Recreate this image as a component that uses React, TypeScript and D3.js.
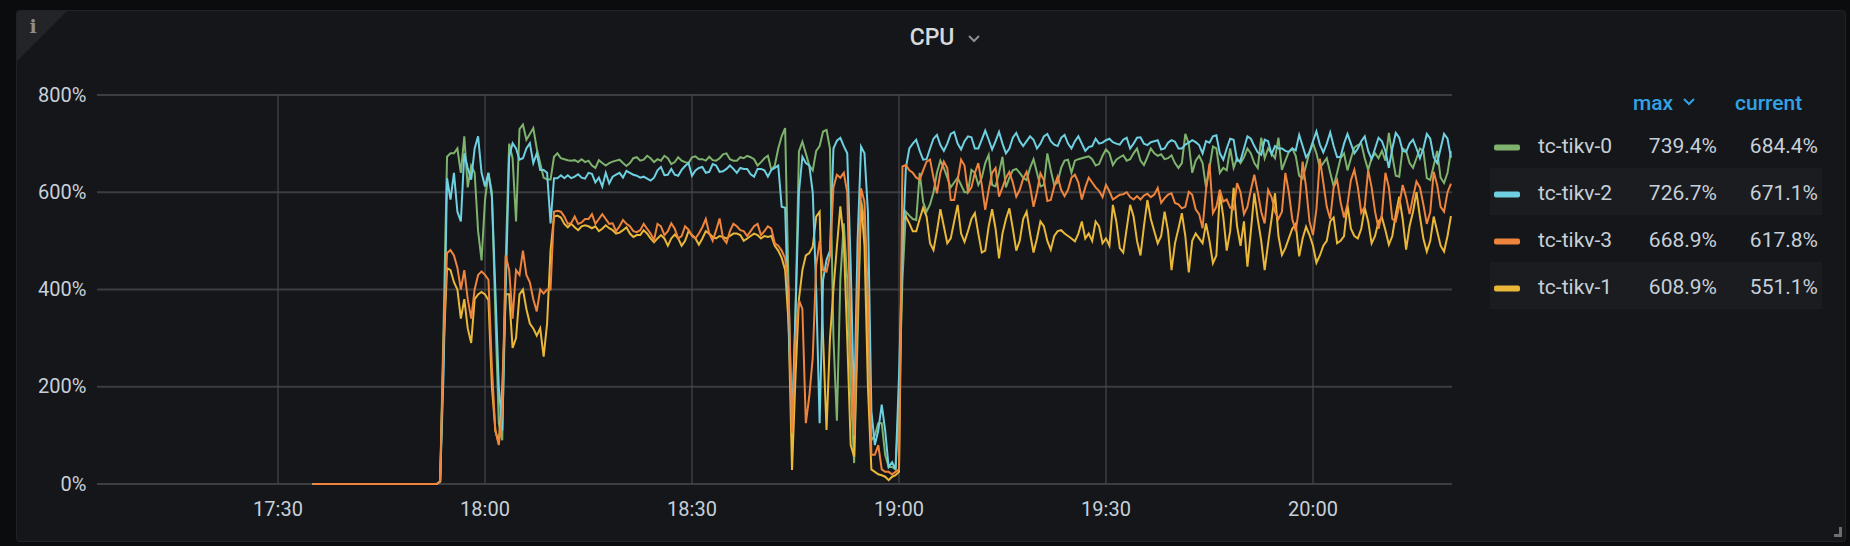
import { useEffect } from 'react'
import * as d3 from 'd3'

// series order follows the query order (drawing order too)
const seriesNames = ['tc-tikv-0', 'tc-tikv-1', 'tc-tikv-2', 'tc-tikv-3']
const seriesColors = ['#7eb26d', '#eab839', '#6ed0e0', '#ef843c']

// samples every 30s starting 17:35
const startTime = new Date(2020, 0, 1, 17, 35, 0)
const stepSeconds = 30
const domainStart = new Date(2020, 0, 1, 17, 3, 46)
const domainEnd = new Date(2020, 0, 1, 20, 20, 9)

const yTicks = [0, 200, 400, 600, 800]

const tikv0 = [
  0, 0, 0, 0, 0, 0, 0, 0, 0, 0,
  0, 0, 0, 0, 0, 0, 0, 0, 0, 0,
  0, 0, 0, 0, 0, 0, 0, 0, 0, 0,
  0, 0, 0, 0, 0, 0, 0, 5, 330, 673,
  680, 680, 690, 640, 715, 610, 655, 640, 520, 460,
  584, 640, 600, 350, 125, 90, 460, 700, 670, 540,
  730, 739.4, 708, 720, 732, 690, 660, 630, 626, 626,
  673, 680, 670, 668, 666, 665, 666, 662, 668, 662,
  665, 655, 650, 666, 660, 655, 660, 663, 665, 667,
  660, 654, 660, 670, 672, 665, 667, 675, 670, 662,
  668, 665, 675, 670, 658, 662, 672, 665, 662, 660,
  672, 674, 668, 668, 665, 673, 666, 665, 670, 678,
  680, 668, 665, 665, 672, 670, 675, 672, 668, 655,
  662, 670, 675, 646, 655, 690, 715, 732, 400, 90,
  350, 684, 704, 680, 655, 645, 685, 695, 725, 728,
  690, 300, 130, 420, 536, 420, 200, 43, 300, 584,
  540, 300, 90, 100, 125, 125, 60, 35, 35, 30,
  170, 420, 560, 552, 545, 543, 640, 580, 560, 575,
  600, 640, 665, 650, 630, 610, 620, 630, 615, 600,
  600, 646, 640, 615, 630, 660, 677, 615, 612, 640,
  673, 610, 630, 645, 648, 640, 630, 625, 650, 668,
  640, 612, 615, 680, 645, 615, 620, 650, 665, 667,
  640, 665, 668, 670, 672, 674, 668, 655, 658, 675,
  688, 680, 656, 667, 672, 676, 665, 668, 680, 690,
  665, 656, 672, 690, 680, 675, 678, 668, 670, 676,
  660, 650, 660, 720, 700, 640, 665, 675, 660, 610,
  650, 694, 690, 640, 650, 645, 690, 650, 670, 660,
  672, 690, 680, 660, 650, 712, 670, 690, 680, 670,
  712, 646, 665, 683, 690, 675, 634, 628, 655, 683,
  701, 680, 650, 660, 670, 640, 612, 640, 670, 680,
  645, 670, 692, 697, 700, 670, 646, 670, 680, 670,
  685, 665, 722, 675, 634, 632, 690, 685, 660, 650,
  670, 690, 685, 629, 625, 655, 685, 630, 619, 640,
  684.4,
]

const tikv1 = [
  0, 0, 0, 0, 0, 0, 0, 0, 0, 0,
  0, 0, 0, 0, 0, 0, 0, 0, 0, 0,
  0, 0, 0, 0, 0, 0, 0, 0, 0, 0,
  0, 0, 0, 0, 0, 0, 0, 5, 280, 444,
  440, 415, 400, 340, 380, 320, 290, 380, 390, 395,
  390, 378, 200, 110, 84, 200, 390, 390, 280, 300,
  390, 400, 360, 330, 320, 305, 320, 262, 330, 480,
  550, 552, 548, 535, 528, 535, 528, 522, 530, 532,
  530, 526, 530, 520, 525, 532, 526, 522, 515, 517,
  522, 528, 515, 508, 512, 512, 522, 515, 505, 497,
  505, 512, 505, 490, 505, 513, 505, 490, 500, 520,
  512, 505, 492, 505, 520, 515, 508, 505, 510, 508,
  505, 510, 515, 515, 512, 500, 505, 510, 515, 512,
  505, 510, 508, 510, 490, 480, 465, 440, 330, 29,
  220, 380, 440, 470, 475, 488, 550, 560, 300, 111,
  300, 400, 488, 571, 500, 300, 80, 56, 350, 580,
  490, 200, 30, 25, 20, 18, 15, 8, 15, 18,
  25, 540, 550, 536, 520, 520, 545, 568, 550, 495,
  481, 520, 565, 530, 495, 505, 540, 574, 515, 498,
  520, 545, 557, 515, 476, 480, 530, 565, 525, 464,
  515, 545, 567, 525, 480, 500, 545, 560, 515, 476,
  505, 540, 530, 500, 482, 510, 520, 522, 515, 510,
  505, 499, 515, 540, 505, 515, 500, 540, 530, 495,
  505, 490, 574, 540, 485, 476, 525, 574, 550, 500,
  470, 530, 584, 545, 520, 495, 510, 560, 520, 440,
  495, 525, 557, 510, 435, 500, 515, 505, 495, 536,
  500, 454, 470, 598, 550, 480, 520, 608.9, 530, 490,
  540, 447, 520, 598, 545, 500, 440, 495, 545, 598,
  510, 471, 485, 505, 525, 535, 468, 505, 529, 512,
  490, 455, 470, 490, 500, 540, 548, 495, 500, 510,
  574, 525, 510, 505, 525, 568, 540, 495, 510, 540,
  548, 522, 492, 510, 555, 591, 545, 482, 530, 560,
  600, 550, 505, 478, 500, 550, 520, 490, 478, 510,
  551.1,
]

const tikv2 = [
  0, 0, 0, 0, 0, 0, 0, 0, 0, 0,
  0, 0, 0, 0, 0, 0, 0, 0, 0, 0,
  0, 0, 0, 0, 0, 0, 0, 0, 0, 0,
  0, 0, 0, 0, 0, 0, 0, 5, 230, 629,
  585, 640, 560, 540, 680, 650, 626, 690, 715, 640,
  612, 640, 590, 400, 200, 110, 400, 673, 701, 690,
  667, 670, 690, 701, 660, 680, 646, 646, 640, 536,
  629, 629, 635, 629, 635, 629, 632, 637, 630, 628,
  640, 638, 620, 630, 612, 640, 618, 632, 636, 640,
  630, 644, 640, 636, 634, 630, 632, 628, 624, 630,
  645, 652, 635, 636, 648, 636, 634, 646, 654, 660,
  634, 645, 650, 652, 640, 642, 658, 655, 642, 643,
  648, 655, 648, 640, 650, 648, 648, 637, 632, 648,
  648, 645, 632, 646, 650, 655, 570, 568, 330, 120,
  350, 600, 673, 660, 655, 600, 400, 125, 420, 461,
  480, 690, 706, 712, 695, 680, 450, 150, 500, 694,
  680, 560, 150, 80, 110, 163, 110, 35, 45, 30,
  220, 480, 650, 690, 700, 708, 685, 667, 668, 690,
  710, 718, 697, 685, 700, 720, 724, 700, 688, 705,
  715, 713, 690, 690, 708, 726.7, 708, 688, 705, 724,
  700, 680, 690, 712, 722, 705, 695, 705, 715, 708,
  690, 700, 715, 720, 705, 698, 695, 712, 718, 700,
  690, 705, 715, 700, 685, 693, 695, 710, 700, 702,
  707, 710, 703, 700, 698, 708, 712, 690, 700, 712,
  713, 700, 697, 703, 705, 707, 688, 690, 702, 707,
  704, 690, 690, 698, 702, 707, 703, 697, 680, 705,
  702, 715, 717, 680, 667, 690, 710, 708, 665, 665,
  690, 715, 710, 695, 682, 677, 708, 705, 678, 695,
  690, 690, 685, 683, 690, 686, 718, 695, 672, 682,
  705, 725, 698, 682, 700, 723, 695, 672, 673, 700,
  720, 700, 680, 690, 705, 715, 685, 668, 690, 712,
  705, 685, 650, 690, 722, 712, 685, 683, 700, 708,
  690, 670, 690, 720, 710, 672, 660, 690, 720, 710,
  671.1,
]

const tikv3 = [
  0, 0, 0, 0, 0, 0, 0, 0, 0, 0,
  0, 0, 0, 0, 0, 0, 0, 0, 0, 0,
  0, 0, 0, 0, 0, 0, 0, 0, 0, 0,
  0, 0, 0, 0, 0, 0, 0, 5, 300, 475,
  481, 470, 445, 400, 440, 380, 340, 400, 430, 437,
  430, 420, 240, 110, 80, 150, 470, 440, 340, 440,
  430, 480, 430, 415, 380, 355, 400, 392, 400, 400,
  560, 562, 560, 550, 535, 537, 550, 535, 538, 545,
  545, 555, 535, 545, 555, 545, 535, 536, 520, 530,
  543, 535, 530, 520, 518, 522, 535, 525, 515, 502,
  535, 530, 512, 520, 536, 525, 505, 510, 530, 523,
  510, 505, 515, 528, 545, 515, 500, 522, 546, 505,
  496, 520, 535, 530, 522, 520, 510, 520, 530, 535,
  512, 520, 530, 525, 495, 490, 480, 464, 400, 105,
  300, 378, 360, 125, 180, 260, 450, 500, 440, 437,
  470, 610, 636, 630, 640, 600, 300, 100, 400, 608,
  580, 380, 60, 60, 80, 30, 25, 25, 20, 25,
  30, 653, 656, 645, 640, 630, 626, 645, 663, 667,
  630, 598, 640, 663, 650, 584, 584, 625, 667, 655,
  600, 610, 640, 660, 615, 564, 605, 640, 650, 591,
  610, 630, 642, 620, 591, 605, 628, 642, 612, 570,
  600, 639, 625, 582, 584, 612, 632, 605, 592, 605,
  630, 636, 620, 585, 610, 630, 620, 610, 603, 590,
  615, 602, 585, 590, 595, 596, 600, 590, 585, 592,
  585, 593, 597, 590, 595, 609, 578, 588, 595, 598,
  578, 575, 567, 570, 601, 595, 565, 555, 526, 605,
  659, 557, 570, 605, 581, 585, 568, 565, 619, 600,
  555, 570, 605, 636, 600, 560, 536, 605, 590, 560,
  545, 560, 640, 600, 545, 520, 570, 663, 610, 540,
  512, 565, 668.9, 620, 570, 545, 610, 625, 580, 548,
  575, 625, 646, 610, 558, 570, 646, 610, 560, 525,
  555, 640, 610, 545, 540, 572, 615, 590, 555, 590,
  622, 610, 575, 535, 560, 642, 615, 570, 560, 600,
  617.8,
]

const seriesValues = [tikv0, tikv1, tikv2, tikv3]

const W = 1850
const H = 546
const plot = { left: 97, right: 1452, top: 95, bottom: 484 }
const font = "Roboto, 'Noto Sans', sans-serif"
const textColor = '#c7d0d9'

export default function App() {
  useEffect(() => {
    document.body.style.margin = '0'
    document.body.style.background = '#0b0c0e'
  }, [])

  const x = d3.scaleTime().domain([domainStart, domainEnd]).range([plot.left, plot.right])
  const y = d3.scaleLinear().domain([0, 800]).range([plot.bottom, plot.top])
  const xTicks = x.ticks(d3.timeMinute.every(30) as d3.TimeInterval)
  const fmtTime = d3.timeFormat('%H:%M')

  const timeAt = (i: number) => new Date(startTime.getTime() + i * stepSeconds * 1000)
  const line = d3
    .line<number>()
    .x((_, i) => x(timeAt(i)))
    .y((d) => y(d))

  const legend = seriesNames
    .map((name, k) => ({
      name,
      color: seriesColors[k],
      max: d3.max(seriesValues[k]) ?? 0,
      current: seriesValues[k][seriesValues[k].length - 1],
    }))
    .sort((a, b) => b.max - a.max)

  const rowTop = 121
  const rowH = 47

  return (
    <svg width={W} height={H} style={{ display: 'block' }} fontFamily={font}>
      <rect x={0} y={0} width={W} height={H} fill="#0b0c0e" />
      <rect x={16.5} y={10.5} width={1829} height={531} rx={3} fill="#141619" stroke="#202226" />

      {/* info corner */}
      <path d="M19.5,11 L67,11 L17,61 L17,13.5 Q17,11 19.5,11 Z" fill="#222428" />
      <text x={33} y={33} fontFamily="'DejaVu Serif', serif" fontWeight={700} fontSize={19} fill="#8e8e8e" textAnchor="middle">
        i
      </text>

      {/* title */}
      <text x={932} y={45} textAnchor="middle" fontSize={23} fontWeight={500} fill="#d8d9da">
        CPU
      </text>
      <polyline points="969,36 974,41 979,36" fill="none" stroke="#8e8e8e" strokeWidth={2} />

      {/* grid */}
      {yTicks.map((t) => (
        <line key={'gy' + t} x1={plot.left} x2={plot.right} y1={y(t)} y2={y(t)} stroke="#3b3d41" strokeWidth={2} />
      ))}
      {xTicks.map((t) => (
        <line key={'gx' + t.getTime()} x1={x(t)} x2={x(t)} y1={plot.top} y2={plot.bottom} stroke="#45474b" strokeWidth={1.2} />
      ))}

      {/* axes labels */}
      {yTicks.map((t) => (
        <text key={'ly' + t} x={86.5} y={y(t) + 6.5} textAnchor="end" fontSize={20} fill={textColor}>
          {t}%
        </text>
      ))}
      {xTicks.map((t) => (
        <text key={'lx' + t.getTime()} x={x(t)} y={516} textAnchor="middle" fontSize={20} fill={textColor}>
          {fmtTime(t)}
        </text>
      ))}

      {/* series */}
      {seriesValues.map((vals, k) => (
        <path key={seriesNames[k]} d={line(vals) ?? ''} fill="none" stroke={seriesColors[k]} strokeWidth={2} />
      ))}

      {/* legend */}
      <text x={1633} y={110} fontSize={21} fontWeight={500} fill="#33a2e5">
        max
      </text>
      <polyline points="1684,99 1689,104 1694,99" fill="none" stroke="#33a2e5" strokeWidth={2} />
      <text x={1735} y={110} fontSize={21} fontWeight={500} fill="#33a2e5">
        current
      </text>
      {legend.map((s, r) => {
        const top = rowTop + r * rowH
        const cy = top + rowH / 2
        return (
          <g key={s.name}>
            {r % 2 === 1 && <rect x={1490} y={top} width={332} height={rowH} fill="#1a1c1f" />}
            <rect x={1494} y={cy} width={26} height={6} rx={2} fill={s.color} />
            <text x={1538} y={cy + 8} fontSize={21} fill={textColor}>
              {s.name}
            </text>
            <text x={1717} y={cy + 8} fontSize={21} fill={textColor} textAnchor="end">
              {s.max.toFixed(1)}%
            </text>
            <text x={1818} y={cy + 8} fontSize={21} fill={textColor} textAnchor="end">
              {s.current.toFixed(1)}%
            </text>
          </g>
        )
      })}

      {/* resize handle */}
      <path d="M1839,527 L1842,527 L1842,537 L1834,537 L1834,534 L1839,534 Z" fill="#6e6e6e" />
    </svg>
  )
}
